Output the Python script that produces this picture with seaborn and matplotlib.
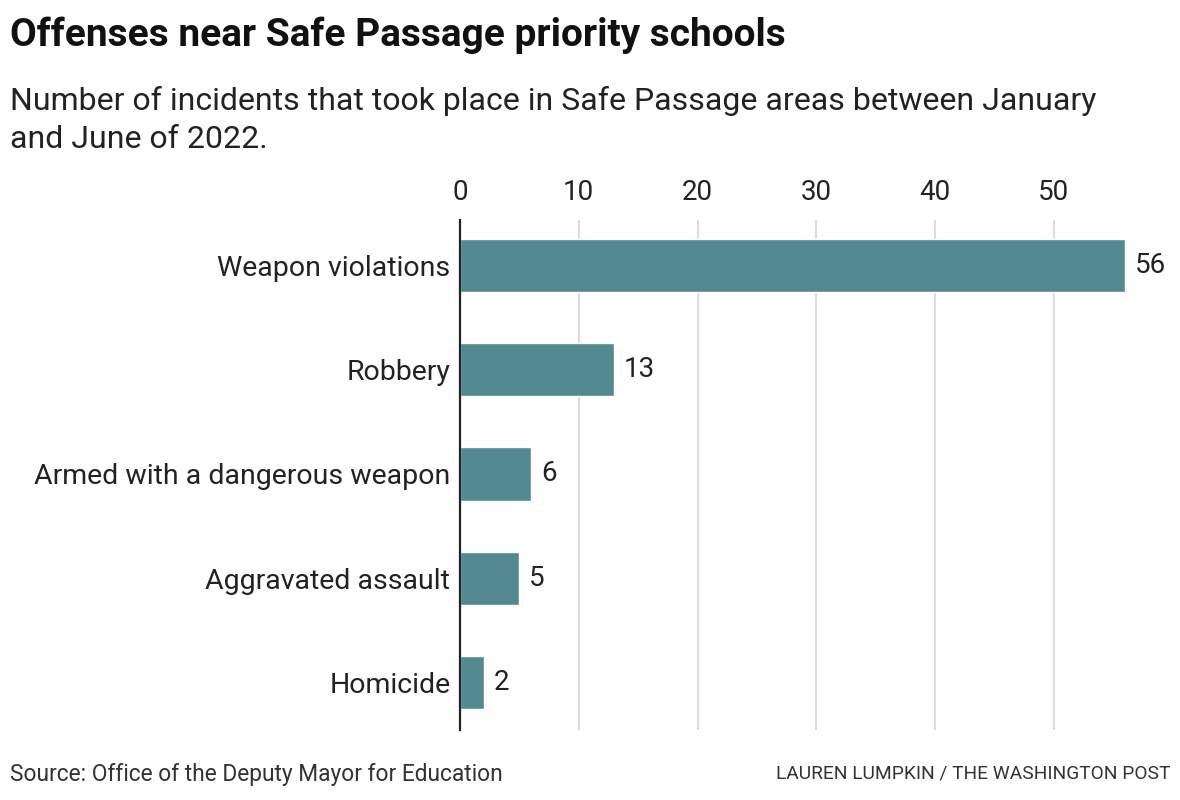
import numpy as np
import pandas as pd
import matplotlib.pyplot as plt
import seaborn as sns

categories = ['Weapon violations', 'Robbery', 'Armed with a dangerous weapon',
              'Aggravated assault', 'Homicide']
incidents = [56, 13, 6, 5, 2]
x_ticks = [0, 10, 20, 30, 40, 50]

title = 'Offenses near Safe Passage priority schools'
subtitle = 'Number of incidents that took place in Safe Passage areas between January\nand June of 2022.'
source = 'Source: Office of the Deputy Mayor for Education'
credit = 'LAUREN LUMPKIN / THE WASHINGTON POST'

sns.set_theme(style='white')
plt.rcParams['font.family'] = ['Roboto', 'DejaVu Sans']

df = pd.DataFrame({'offense': categories, 'count': incidents})

fig = plt.figure(figsize=(11.8, 8), dpi=100)
ax = fig.add_axes([460 / 1180, 1 - 730 / 800, (1165 - 460) / 1180, 510 / 800])

sns.barplot(data=df, y='offense', x='count', color='#538a92', width=0.51,
            saturation=1, ax=ax, zorder=3)

ax.set_xlim(0, (1165 - 460) / 11.88)
ax.set_ylim(4.46, -0.44)
ax.set_xticks(x_ticks)
ax.xaxis.tick_top()
ax.tick_params(axis='x', length=0, pad=10, labelsize=20, labelcolor='#222222')
ax.tick_params(axis='y', length=0, pad=7, labelsize=20.5, labelcolor='#222222')
ax.set_xlabel('')
ax.set_ylabel('')
for t in x_ticks[1:]:
    ax.axvline(t, color='#dddddd', lw=1.5, zorder=1)
for s in ['top', 'right', 'bottom']:
    ax.spines[s].set_visible(False)
ax.spines['left'].set_color('#222222')
ax.spines['left'].set_linewidth(1.6)
ax.spines['left'].set_zorder(4)

for i, v in enumerate(incidents):
    ax.text(v + 0.8, i, str(v), va='center', ha='left', fontsize=20, color='#222222')

fig.text(10 / 1180, 1 - 35 / 800, title, fontsize=28, fontweight='bold',
         color='#111111', va='center', ha='left')
fig.text(10 / 1180, 1 - 86 / 800, subtitle, fontsize=23, color='#222222',
         va='top', ha='left', linespacing=1.38)
fig.text(10 / 1180, 1 - 774 / 800, source, fontsize=16.4, color='#333333',
         va='center', ha='left')
fig.text(1170 / 1180, 1 - 774 / 800, credit, fontsize=13.8, color='#333333',
         va='center', ha='right')

plt.savefig('out.png', dpi=100)
plt.close()
